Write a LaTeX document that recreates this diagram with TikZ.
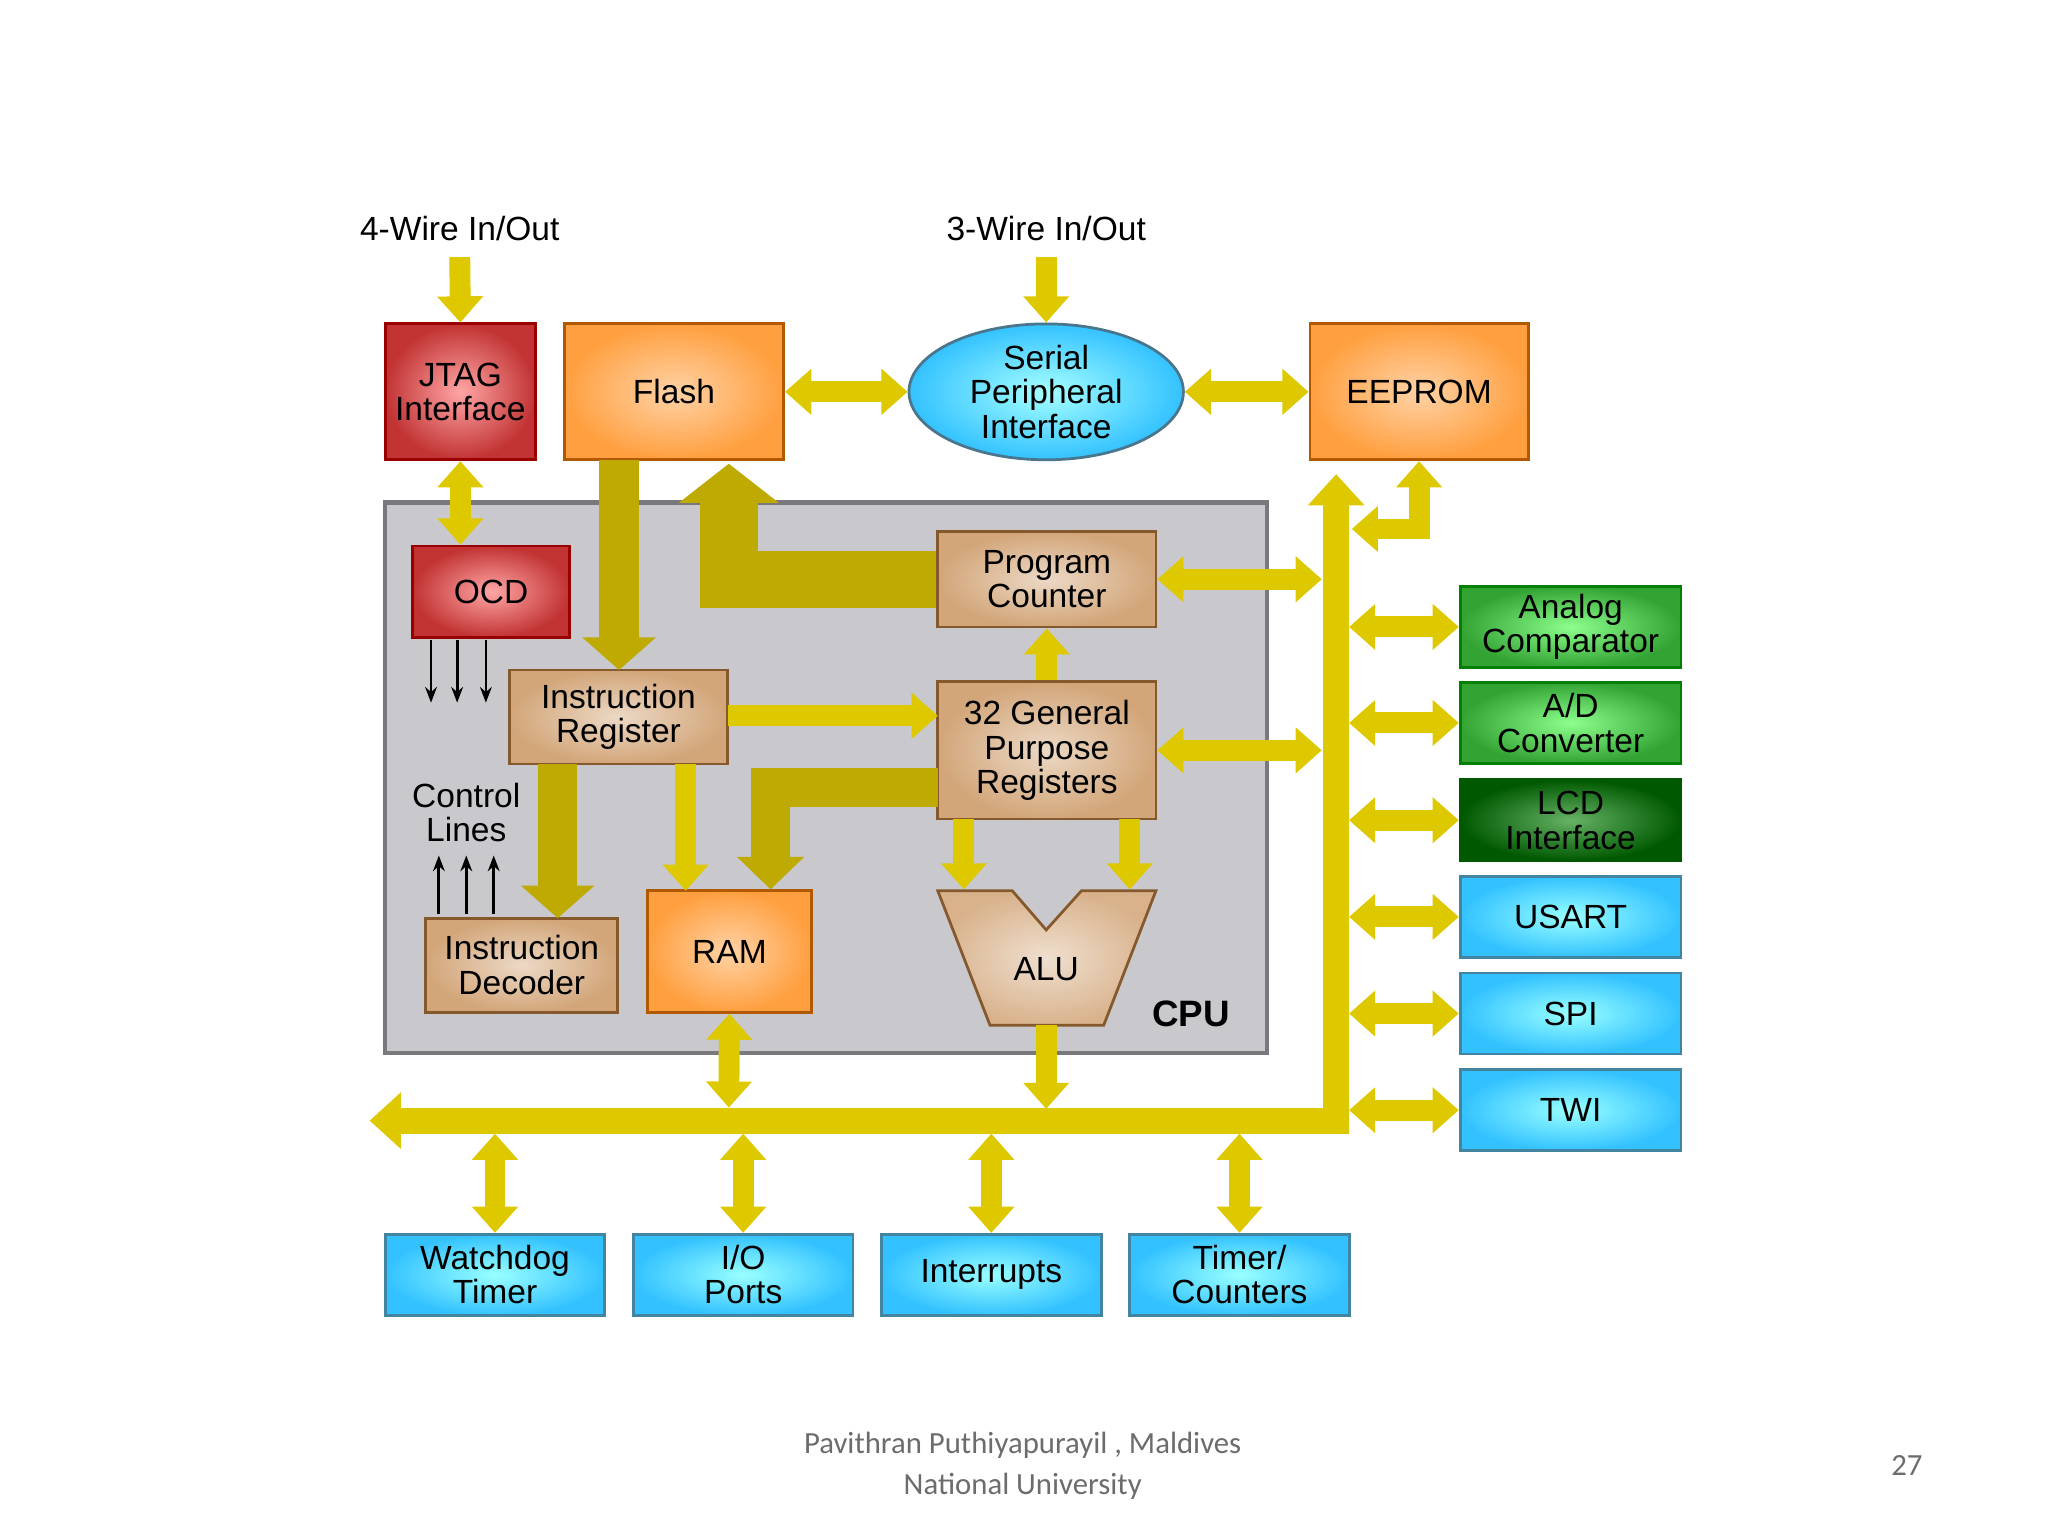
\documentclass[tikz,border=0pt]{standalone}
\usepackage{fontspec}
\setmainfont{Liberation Sans}
\newfontfamily\footfont{Carlito}
\usetikzlibrary{arrows.meta,shapes.geometric,calc}
\begin{document}
\begin{tikzpicture}[x=0.01cm,y=-0.01cm,
  font=\fontsize{7.3}{7.5}\selectfont,
  bx/.style={draw,line width=0.6pt,shading=radial,align=center,inner sep=0pt},
  org/.style={bx,draw=orange!70!black,inner color=orange!35!white,outer color=orange!75!white},
  red/.style={bx,draw=red!60!black,inner color=red!35!white,outer color=red!70!black!80!white},
  tan/.style={bx,draw=brown!70!black,inner color=brown!30!white,outer color=brown!70!white},
  blu/.style={bx,draw=cyan!60!black,inner color=cyan!40!white,outer color=cyan!70!blue!80!white},
  grn/.style={bx,draw=green!50!black,inner color=green!45!white,outer color=green!55!black!80!white},
  dgr/.style={bx,draw=green!35!black,inner color=green!50!black!60!white,outer color=green!35!black},
  yc/.style={color={rgb,255:red,222;green,200;blue,0}},
  oc/.style={color={rgb,255:red,190;green,170;blue,0}},
  ya/.style={yc,line width=0.16cm,-{Triangle[length=0.2cm,width=0.34cm]}},
  yd/.style={yc,line width=0.16cm,{Triangle[length=0.2cm,width=0.34cm]}-{Triangle[length=0.2cm,width=0.34cm]}},
  thin/.style={black,line width=0.6pt,-{Stealth[length=0.12cm]}}]
\useasboundingbox (0,0) rectangle (1568,1176);
% CPU
\node[draw={rgb,255:red,120;green,120;blue,125},line width=1pt,fill={rgb,255:red,200;green,200;blue,205},minimum width=6.75cm,minimum height=4.21cm,inner sep=0pt] (cpu) at (632.5,595.5) {};
\node[font=\fontsize{8}{9}\selectfont\bfseries] (cpul) at (912,776) {CPU};
% top labels
\node (w4) at (352,175) {4-Wire In/Out};
\node (w3) at (801,175) {3-Wire In/Out};
% boxes
\node[red,minimum width=1.15cm,minimum height=1.04cm] (jtag) at (352.5,300) {JTAG\\Interface};
\node[org,minimum width=1.68cm,minimum height=1.04cm] (flash) at (516,300) {Flash};
\node[org,minimum width=1.67cm,minimum height=1.04cm] (eeprom) at (1086.5,300) {EEPROM};
\node[ellipse,draw=cyan!50!black,line width=0.6pt,shading=radial,inner color=cyan!35!white,outer color=cyan!70!blue!80!white,minimum width=2.1cm,minimum height=1.04cm,inner sep=0pt,align=center] (spi0) at (801,300) {Serial\\Peripheral\\Interface};
\node[red,minimum width=1.2cm,minimum height=0.7cm] (ocd) at (376,453) {OCD};
\node[tan,minimum width=1.67cm,minimum height=0.72cm] (ir) at (473.5,549) {Instruction\\Register};
\node[tan,minimum width=1.67cm,minimum height=0.73cm] (pc) at (801.5,443.5) {Program\\Counter};
\node[tan,minimum width=1.67cm,minimum height=1.05cm] (gpr) at (801.5,574.5) {32 General\\Purpose\\Registers};
\node[tan,minimum width=1.47cm,minimum height=0.72cm] (dec) at (399.5,739) {Instruction\\Decoder};
\node[org,minimum width=1.25cm,minimum height=0.93cm] (ram) at (558.5,728.5) {RAM};
\node[align=center] (ctl) at (357,622) {Control\\Lines};
% ALU
\shade[draw=brown!70!black,line width=0.6pt,inner color=brown!25!white,outer color=brown!60!white] (718,682) -- (775,682) -- (801,712) -- (828,682) -- (885,682) -- (845,785) -- (758,785) -- cycle;
\node (alu) at (801,742) {ALU};
% right peripherals
\node[grn,minimum width=1.69cm,minimum height=0.62cm] (ac) at (1202.5,480) {Analog\\Comparator};
\node[grn,minimum width=1.69cm,minimum height=0.62cm] (ad) at (1202.5,553.5) {A/D\\Converter};
\node[dgr,minimum width=1.69cm,minimum height=0.62cm] (lcd) at (1202.5,628) {LCD\\Interface};
\node[blu,minimum width=1.69cm,minimum height=0.62cm] (usart) at (1202.5,702) {USART};
\node[blu,minimum width=1.69cm,minimum height=0.62cm] (spi) at (1202.5,776) {SPI};
\node[blu,minimum width=1.69cm,minimum height=0.62cm] (twi) at (1202.5,850) {TWI};
% bottom
\node[blu,minimum width=1.68cm,minimum height=0.62cm] (wd) at (379,976) {Watchdog\\Timer};
\node[blu,minimum width=1.68cm,minimum height=0.62cm] (io) at (569,976) {I/O\\Ports};
\node[blu,minimum width=1.68cm,minimum height=0.62cm] (intr) at (759,976) {Interrupts};
\node[blu,minimum width=1.68cm,minimum height=0.62cm] (tc) at (949,976) {Timer/\\Counters};
% bus
\coordinate (busL) at (283,858);
\coordinate (busT) at (1023,363);
\draw[yc,line width=0.2cm,{Triangle[length=0.24cm,width=0.42cm]}-{Triangle[length=0.24cm,width=0.42cm]}] (busL) -- (1033,858) -- (1023,858) -- (busT);
% top arrows
\draw[ya] (w4.south) -- (jtag.north);
\draw[ya] (w3.south) -- (spi0.north);
\draw[yd] (flash.east) -- (spi0.west);
\draw[yd] (spi0.east) -- (eeprom.west);
\draw[yd] (jtag.south) -- (jtag.south |- ocd.north);
\draw[yd] (eeprom.south) |- (1035,405);
% OCD thin
\foreach \x in {330,350,372} \draw[thin] (\x,490) -- (\x,538);
\foreach \x in {336,357,378} \draw[thin] (\x,700) -- (\x,655);
% olive fat arrows
\draw[oc,line width=0.44cm,line join=miter,-{Triangle[length=0.3cm,width=0.75cm]}] (pc.west) -- (558,443.5) -- (558,355);
\draw[oc,line width=0.3cm,-{Triangle[length=0.25cm,width=0.55cm]}] (474,352) -- (474,513);
\draw[oc,line width=0.3cm,-{Triangle[length=0.25cm,width=0.55cm]}] (427,585) -- (427,703);
\draw[oc,line width=0.3cm,line join=miter,-{Triangle[length=0.25cm,width=0.5cm]}] (718,603) -- (590,603) -- (590,681);
% yellow inner arrows
\draw[ya] (557,548) -- (718,548);
\draw[ya] (gpr.north) -- (pc.south);
\draw[ya] (525,585) -- (525,682);
\draw[ya] (738,627) -- (738,681);
\draw[ya] (865,627) -- (865,681);
\draw[ya] (801,785) -- (801,849);
\draw[yd] (ram.south) -- (558,848);
\draw[yd] (pc.east) -- (1012,443.5);
\draw[yd] (gpr.east) -- (1012,574.5);
\foreach \n in {ac,ad,lcd,usart,spi,twi} \draw[yd] ($(\n.west)+(-84,0)$) -- (\n.west);
\foreach \n in {wd,io,intr,tc} \draw[yd] ($(\n.north)+(0,-76)$) -- (\n.north);
% footer
\node[font=\footfont\fontsize{6.7}{9}\selectfont,text=gray!85!black,align=center] (foot) at (783,1122) {Pavithran Puthiyapurayil , Maldives\\National University};
\node[font=\footfont\fontsize{6.7}{9}\selectfont,text=gray!85!black] (pg) at (1460,1122) {27};
\end{tikzpicture}
\end{document}
